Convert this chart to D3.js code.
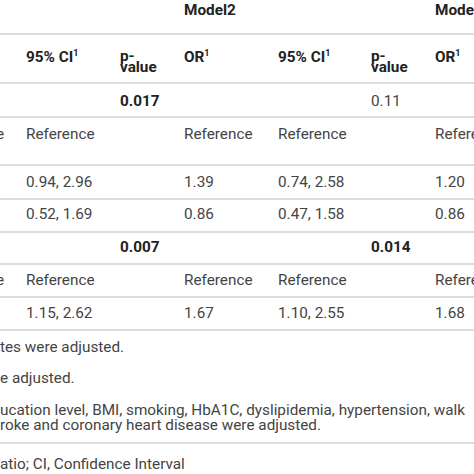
<!DOCTYPE html><html><head><meta charset="utf-8"><script src="https://cdn.jsdelivr.net/npm/d3@7"></script>
<style>body{margin:0;background:#fff}svg{font-family:Roboto,sans-serif}</style></head><body>
<script>
const colX = [26,120,184,278,371,435];
const headers = ["95% CI","p-|value","OR","95% CI","p-|value","OR"];
const rows = [
 {y:106, cells:["","0.017","","","0.11",""], bold:[1]},
 {y:139, cells:["Reference","","Reference","Reference","","Reference"], bold:[], lead:"e"},
 {y:187, cells:["0.94, 2.96","","1.39","0.74, 2.58","","1.20"], bold:[]},
 {y:219, cells:["0.52, 1.69","","0.86","0.47, 1.58","","0.86"], bold:[]},
 {y:252, cells:["","0.007","","","0.014",""], bold:[1,4]},
 {y:285, cells:["Reference","","Reference","Reference","","Reference"], bold:[], lead:"e"},
 {y:318, cells:["1.15, 2.62","","1.67","1.10, 2.55","","1.68"], bold:[]}
];
const footnotes = [[352,"tes were adjusted."],[383,"e adjusted."],[415,"ucation level, BMI, smoking, HbA1C, dyslipidemia, hypertension, walk"],[430,"roke and coronary heart disease were adjusted."],[469,"atio; CI, Confidence Interval"]];
const lines = [[34,2],[83,2],[117,2],[165,2],[199,2],[232,2],[264,2],[297,2],[330,2],[443,2]];
const svg = d3.select("body").append("svg").attr("width",474).attr("height",474);
svg.selectAll("line").data(lines).join("line").attr("x1",0).attr("x2",474)
 .attr("y1",d=>d[0]).attr("y2",d=>d[0]).attr("stroke","#dcdcdc").attr("stroke-width",d=>d[1]);
const fs=15.3;
svg.append("text").attr("x",184).attr("y",15).attr("font-size",fs).attr("font-weight","bold").attr("fill","#222").text("Model2");
svg.append("text").attr("x",435).attr("y",15).attr("font-size",fs).attr("font-weight","bold").attr("fill","#222").text("Model3");
headers.forEach((h,i)=>{
 const t=svg.append("text").attr("x",colX[i]).attr("font-size",fs).attr("font-weight","bold").attr("fill","#222");
 if(h.includes("|")){const [a,b]=h.split("|");
  t.attr("y",61);t.append("tspan").attr("x",colX[i]).attr("y",61).text(a);
  t.append("tspan").attr("x",colX[i]).attr("y",72).text(b);}
 else{t.attr("y",62).text(h);t.append("tspan").attr("font-size",9).attr("dy",-6).text("1");}
});
rows.forEach(r=>{
 if(r.lead) svg.append("text").attr("x",-4).attr("y",r.y).attr("font-size",fs).attr("fill","#444").text(r.lead);
 r.cells.forEach((c,i)=>{ if(!c) return;
  svg.append("text").attr("x",colX[i]).attr("y",r.y).attr("font-size",fs)
   .attr("font-weight",r.bold.includes(i)?"bold":"normal").attr("fill",r.bold.includes(i)?"#222":"#444").text(c);});
});
svg.selectAll("text.fn").data(footnotes).join("text").attr("class","fn").attr("x",0).attr("y",d=>d[0])
 .attr("font-size",fs).attr("fill","#444").text(d=>d[1]);
</script></body></html>
